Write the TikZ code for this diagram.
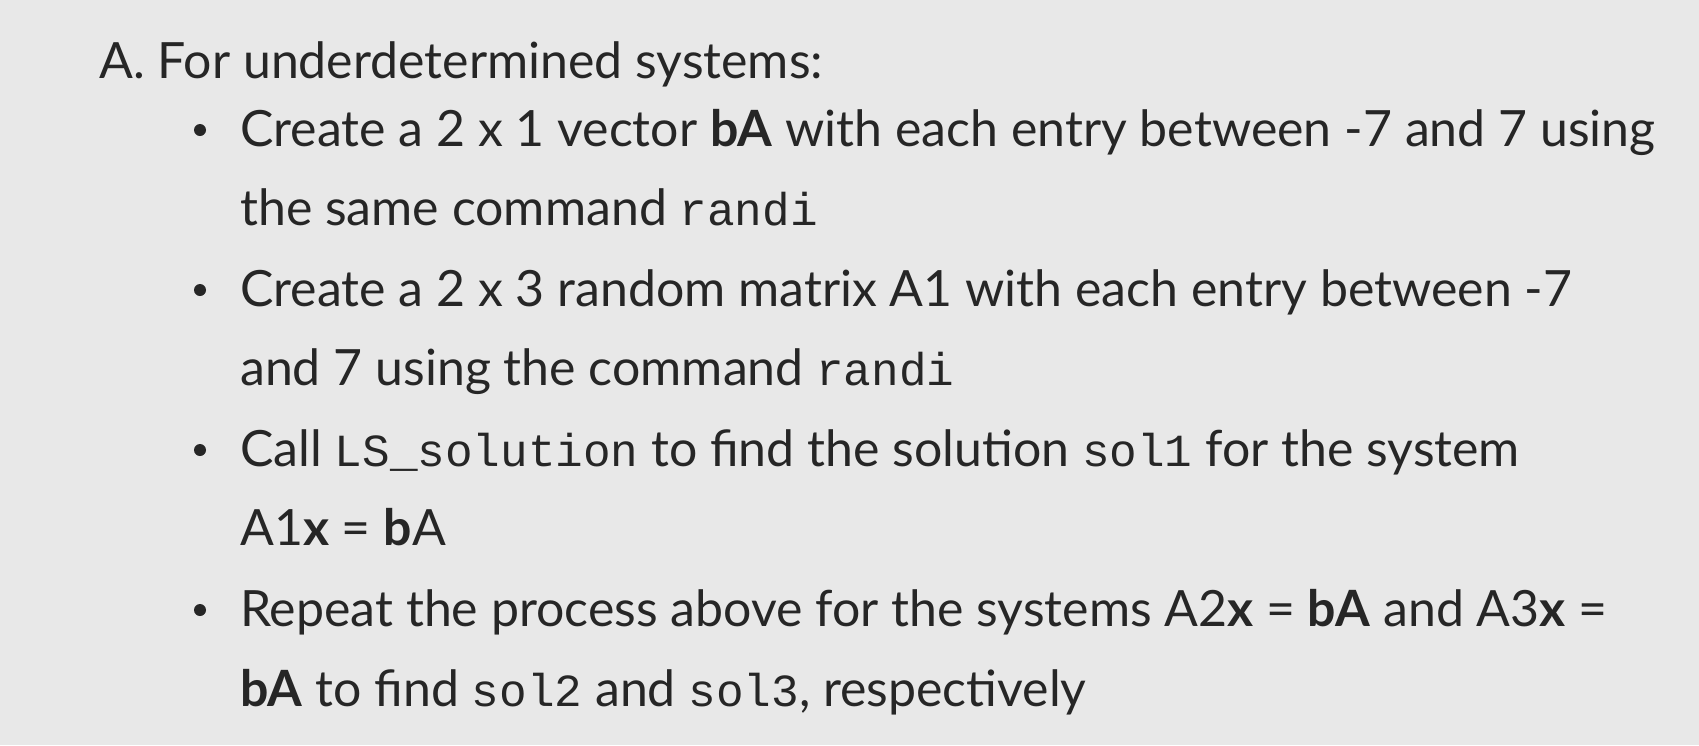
\documentclass[tikz,border=0pt]{standalone}
\usepackage{fontspec}
\setmainfont{Lato}
\newfontfamily\mono{Liberation Mono}
\begin{document}
\begin{tikzpicture}[x=1pt,y=-1pt,
  txt/.style={anchor=base west,inner sep=0pt,text=black!85,font=\fontsize{50}{60}\selectfont},
  bul/.style={fill=black!85,circle,inner sep=0pt,minimum size=12pt}]
\fill[gray!18] (0,0) rectangle (1699,745);
\useasboundingbox (0,0) rectangle (1699,745);
\newcommand\cd[1]{{\mono\fontsize{46}{50}\selectfont #1}}
\node[txt] (t0) at (99,78) {A. For underdetermined systems:};
\node[txt] (l1) at (240,146) {Create a 2 x 1 vector \textbf{bA} with each entry between -7 and 7 using};
\node[txt] (l2) at (240,225) {the same command \cd{randi}};
\node[txt] (l3) at (240,306) {Create a 2 x 3 random matrix A1 with each entry between -7};
\node[txt] (l4) at (240,385) {and 7 using the command \cd{randi}};
\node[txt] (l5) at (240,466) {Call \cd{LS\_solution} to find the solution \cd{sol1} for the system};
\node[txt] (l6) at (240,545) {A1\textbf{x} = \textbf{b}A};
\node[txt] (l7) at (240,626) {Repeat the process above for the systems A2\textbf{x} = \textbf{bA} and A3\textbf{x} =};
\node[txt] (l8) at (240,706) {\textbf{bA} to find \cd{sol2} and \cd{sol3}, respectively};
\node[bul] (b1) at (200,130) {};
\node[bul] (b2) at (200,290) {};
\node[bul] (b3) at (200,450) {};
\node[bul] (b4) at (200,610) {};
\end{tikzpicture}
\end{document}
